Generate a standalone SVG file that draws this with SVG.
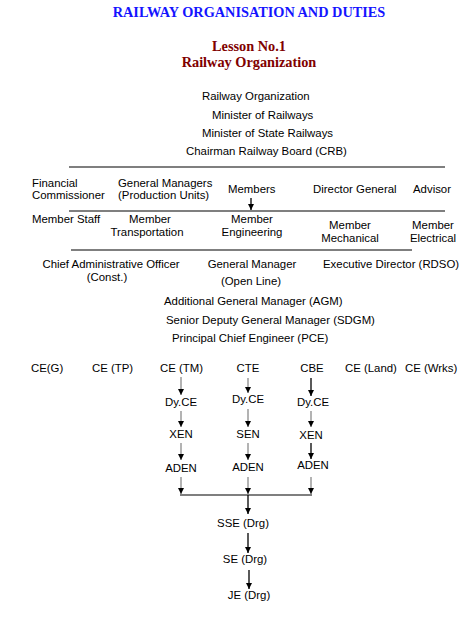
<svg xmlns="http://www.w3.org/2000/svg" width="473" height="617" viewBox="0 0 473 617">
<defs>
<style>
.t{font-family:"Liberation Sans",Arial,sans-serif;font-size:11.4px;fill:#000}
.h1{font-family:"Liberation Serif","Times New Roman",serif;font-weight:bold;font-size:14.3px;fill:#1414ff}
.h2{font-family:"Liberation Serif","Times New Roman",serif;font-weight:bold;font-size:14.3px;fill:#800000}
.rule{stroke:#000;stroke-width:1.2;fill:none}
.g{stroke:#8a8a8a;stroke-width:1.3;fill:none;marker-end:url(#ah)}
.k{stroke:#000;stroke-width:1.3;fill:none;marker-end:url(#ah)}
</style>
<marker id="ah" markerUnits="userSpaceOnUse" markerWidth="7" markerHeight="7" refX="6" refY="3" orient="auto">
<path d="M0,0 L6,3 L0,6 z" fill="#000"/>
</marker>
</defs>
<rect width="473" height="617" fill="#fff"/>
<g id="titles">
<text class="h1" x="249" y="17" text-anchor="middle">RAILWAY ORGANISATION AND DUTIES</text>
<text class="h2" x="249" y="51" text-anchor="middle">Lesson No.1</text>
<text class="h2" x="249" y="67" text-anchor="middle">Railway Organization</text>
</g>
<g id="top">
<text class="t" x="202" y="100">Railway Organization</text>
<text class="t" x="212" y="119">Minister of Railways</text>
<text class="t" x="202" y="137">Minister of State Railways</text>
<text class="t" x="186" y="155">Chairman Railway Board (CRB)</text>
</g>
<g id="rules">
<line class="rule" x1="69" y1="167" x2="445" y2="167"/>
<line class="rule" x1="69" y1="211" x2="445" y2="211"/>
<line class="rule" x1="71" y1="250" x2="412" y2="250"/>
</g>
<g id="fc"><text class="t" x="32" y="187">Financial</text><text class="t" x="32" y="199">Commissioner</text></g>
<g id="gm-pu"><text class="t" x="118" y="187">General Managers</text><text class="t" x="118" y="199">(Production Units)</text></g>
<g id="members"><text class="t" x="228" y="193">Members</text></g>
<g id="dg"><text class="t" x="313" y="193">Director General</text></g>
<g id="advisor"><text class="t" x="413" y="193">Advisor</text></g>
<g id="ms"><text class="t" x="32" y="223">Member Staff</text></g>
<g id="mt"><text class="t" x="150" y="223" text-anchor="middle">Member</text><text class="t" x="147" y="236" text-anchor="middle">Transportation</text></g>
<g id="me"><text class="t" x="252" y="223" text-anchor="middle">Member</text><text class="t" x="252" y="236" text-anchor="middle">Engineering</text></g>
<g id="mm"><text class="t" x="350" y="229" text-anchor="middle">Member</text><text class="t" x="350" y="242" text-anchor="middle">Mechanical</text></g>
<g id="mel"><text class="t" x="433" y="229" text-anchor="middle">Member</text><text class="t" x="433" y="242" text-anchor="middle">Electrical</text></g>
<g id="cao"><text class="t" x="111" y="268" text-anchor="middle">Chief Administrative Officer</text><text class="t" x="107" y="281" text-anchor="middle">(Const.)</text></g>
<g id="gm-ol"><text class="t" x="252" y="268" text-anchor="middle">General Manager</text><text class="t" x="251" y="285" text-anchor="middle">(Open Line)</text></g>
<g id="ed"><text class="t" x="323" y="268">Executive Director (RDSO)</text></g>
<g id="agm"><text class="t" x="164" y="305">Additional General Manager (AGM)</text></g>
<g id="sdgm"><text class="t" x="166" y="324">Senior Deputy General Manager (SDGM)</text></g>
<g id="pce"><text class="t" x="172" y="342">Principal Chief Engineer (PCE)</text></g>
<g id="ceg"><text class="t" x="31" y="372">CE(G)</text></g>
<g id="cetp"><text class="t" x="92" y="372">CE (TP)</text></g>
<g id="cetm"><text class="t" x="160" y="372">CE (TM)</text></g>
<g id="cte"><text class="t" x="248" y="372" text-anchor="middle">CTE</text></g>
<g id="cbe"><text class="t" x="312" y="372" text-anchor="middle">CBE</text></g>
<g id="celand"><text class="t" x="345" y="372">CE (Land)</text></g>
<g id="cewrks"><text class="t" x="405" y="372">CE (Wrks)</text></g>
<g id="dyce1"><text class="t" x="181" y="406" text-anchor="middle">Dy.CE</text></g>
<g id="dyce2"><text class="t" x="248" y="403" text-anchor="middle">Dy.CE</text></g>
<g id="dyce3"><text class="t" x="313" y="406" text-anchor="middle">Dy.CE</text></g>
<g id="xen1"><text class="t" x="181" y="438" text-anchor="middle">XEN</text></g>
<g id="sen"><text class="t" x="248" y="438" text-anchor="middle">SEN</text></g>
<g id="xen2"><text class="t" x="311" y="439" text-anchor="middle">XEN</text></g>
<g id="aden1"><text class="t" x="181" y="472" text-anchor="middle">ADEN</text></g>
<g id="aden2"><text class="t" x="248" y="471" text-anchor="middle">ADEN</text></g>
<g id="aden3"><text class="t" x="313" y="469" text-anchor="middle">ADEN</text></g>
<g id="sse"><text class="t" x="243" y="527" text-anchor="middle">SSE (Drg)</text></g>
<g id="se"><text class="t" x="245" y="563" text-anchor="middle">SE (Drg)</text></g>
<g id="je"><text class="t" x="249" y="599" text-anchor="middle">JE (Drg)</text></g>
<g id="connectors">
<path class="k" d="M251,198 V210"/>
<path class="g" d="M181,377 V395"/>
<path class="g" d="M181,411 V427"/>
<path class="g" d="M181,443 V460"/>
<path class="g" d="M181,477 V494"/>
<path class="g" d="M248,378 V393"/>
<path class="g" d="M248,409 V427"/>
<path class="g" d="M248,443 V460"/>
<path class="g" d="M248,477 V494"/>
<path class="k" d="M311,378 V396"/>
<path class="g" d="M311,411 V427"/>
<path class="k" d="M311,443 V459"/>
<path class="g" d="M311,477 V494"/>
<line class="rule" x1="180" y1="495" x2="312" y2="495"/>
<path class="k" d="M248,495 V514"/>
<path class="k" d="M248,533 V553"/>
<path class="k" d="M249,570 V589"/>
</g>
</svg>
